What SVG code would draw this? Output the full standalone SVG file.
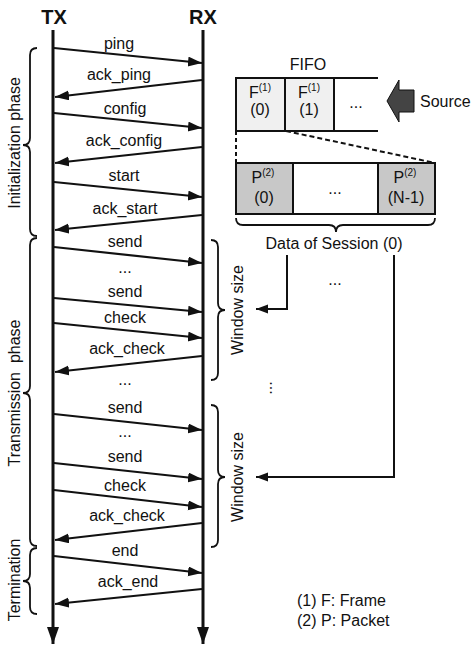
<svg xmlns="http://www.w3.org/2000/svg" width="474" height="647" viewBox="0 0 474 647">
<style>
text{font-family:"Liberation Sans",Arial,sans-serif;fill:#111}
.t{font-size:16px}
.m{font-size:16px;text-anchor:middle}
.h{font-size:20px;font-weight:bold;text-anchor:middle}
.sup{font-size:10px}
.life{stroke:#111;stroke-width:3;fill:none}
.msg{stroke:#111;stroke-width:2.2;fill:none;marker-end:url(#ah)}
.br{stroke:#111;stroke-width:1.8;fill:none}
.box{stroke:#111;stroke-width:2}
.conn{stroke:#111;stroke-width:2;fill:none}
</style>
<defs>
<marker id="ah" markerUnits="userSpaceOnUse" markerWidth="15" markerHeight="11" refX="14" refY="5" orient="auto"><path d="M0,0 L14,5 L0,10 z" fill="#111"/></marker>
<marker id="ahl" markerUnits="userSpaceOnUse" markerWidth="18" markerHeight="12" refX="17" refY="6" orient="auto"><path d="M0,0 L17,6 L0,12 z" fill="#111"/></marker>
<marker id="ahs" markerUnits="userSpaceOnUse" markerWidth="13" markerHeight="10" refX="12" refY="4.5" orient="auto"><path d="M0,0 L12,4.5 L0,9 z" fill="#111"/></marker>
</defs>

<g id="tx">
<text class="h" x="54" y="24">TX</text>
<line class="life" x1="53" y1="30" x2="53" y2="644" marker-end="url(#ahl)"/>
</g>
<g id="rx">
<text class="h" x="203" y="24">RX</text>
<line class="life" x1="203" y1="30" x2="203" y2="644" marker-end="url(#ahl)"/>
</g>

<g id="connectors">
<line class="msg" x1="54" y1="48" x2="202" y2="63"/>
<line class="msg" x1="202" y1="80" x2="55" y2="97"/>
<line class="msg" x1="54" y1="113" x2="202" y2="128"/>
<line class="msg" x1="202" y1="147" x2="55" y2="163"/>
<line class="msg" x1="54" y1="182" x2="202" y2="197"/>
<line class="msg" x1="202" y1="215" x2="55" y2="230"/>
<line class="msg" x1="54" y1="247" x2="202" y2="263"/>
<line class="msg" x1="54" y1="298" x2="202" y2="312"/>
<line class="msg" x1="54" y1="323" x2="202" y2="338"/>
<line class="msg" x1="202" y1="356" x2="55" y2="372"/>
<line class="msg" x1="54" y1="414" x2="202" y2="430"/>
<line class="msg" x1="54" y1="463" x2="202" y2="479"/>
<line class="msg" x1="54" y1="490" x2="202" y2="507"/>
<line class="msg" x1="202" y1="523" x2="55" y2="540"/>
<line class="msg" x1="54" y1="556" x2="202" y2="573"/>
<line class="msg" x1="202" y1="589" x2="55" y2="604"/>
<path class="conn" d="M287 255 V309 H256" marker-end="url(#ahs)"/>
<path class="conn" d="M394 255 V477 H256" marker-end="url(#ahs)"/>
<line class="conn" x1="236" y1="131" x2="236" y2="163" stroke-dasharray="4,3"/>
<line class="conn" x1="286" y1="131" x2="435" y2="163" stroke-dasharray="5,3"/>
</g>

<g id="msg-labels">
<text class="m" x="119" y="49">ping</text>
<text class="m" x="119" y="80">ack_ping</text>
<text class="m" x="125" y="114">config</text>
<text class="m" x="124" y="146">ack_config</text>
<text class="m" x="124" y="181">start</text>
<text class="m" x="125" y="214">ack_start</text>
<text class="m" x="125" y="247">send</text>
<text class="m" x="125" y="273">...</text>
<text class="m" x="125" y="297">send</text>
<text class="m" x="125" y="323">check</text>
<text class="m" x="127" y="354">ack_check</text>
<text class="m" x="125" y="385">...</text>
<text class="m" x="125" y="413">send</text>
<text class="m" x="125" y="437">...</text>
<text class="m" x="125" y="462">send</text>
<text class="m" x="125" y="491">check</text>
<text class="m" x="127" y="521">ack_check</text>
<text class="m" x="125" y="556">end</text>
<text class="m" x="128" y="587">ack_end</text>
</g>

<g id="phase-init">
<path class="br" d="M37 48 Q30 48 30 55 L30 138 Q30 145 23 145 Q30 145 30 152 L30 229 Q30 236 37 236"/>
<text class="m" transform="translate(20 143) rotate(-90)">Initialization phase</text>
</g>
<g id="phase-trans">
<path class="br" d="M37 238 Q30 238 30 245 L30 386 Q30 393 23 393 Q30 393 30 400 L30 539 Q30 546 37 546"/>
<text class="m" xml:space="preserve" transform="translate(20 393) rotate(-90)">Transmission  phase</text>
</g>
<g id="phase-term">
<path class="br" d="M37 548 Q30 548 30 555 L30 574 Q30 581 23 581 Q30 581 30 588 L30 607 Q30 614 37 614"/>
<text class="m" transform="translate(20 580) rotate(-90)">Termination</text>
</g>

<g id="window1">
<path class="br" d="M211 240 Q218 240 218 247 L218 303 Q218 310 225 310 Q218 310 218 317 L218 373 Q218 380 211 380"/>
<text class="m" transform="translate(243 310) rotate(-90)">Window size</text>
</g>
<g id="window2">
<path class="br" d="M211 405 Q218 405 218 412 L218 470 Q218 477 225 477 Q218 477 218 484 L218 540 Q218 547 211 547"/>
<text class="m" transform="translate(243 477) rotate(-90)">Window size</text>
</g>

<g id="fifo">
<text class="m" x="308" y="70">FIFO</text>
<rect x="236" y="78" width="49" height="53" fill="#f0f0f0" class="box"/>
<rect x="285" y="78" width="49" height="53" fill="#f0f0f0" class="box"/>
<line class="box" x1="334" y1="78" x2="378" y2="78"/>
<line class="box" x1="334" y1="131" x2="378" y2="131"/>
<text class="m" x="260" y="98">F<tspan class="sup" dy="-7">(1)</tspan></text>
<text class="m" x="260" y="115">(0)</text>
<text class="m" x="309" y="98">F<tspan class="sup" dy="-7">(1)</tspan></text>
<text class="m" x="309" y="115">(1)</text>
<text class="m" x="356" y="108">...</text>
</g>

<g id="source">
<polygon points="387,101 399,80 399,90 414,90 414,112 399,112 399,122" fill="#444" stroke="#111" stroke-width="1"/>
<text class="t" x="420" y="107">Source</text>
</g>

<g id="packets">
<rect x="236" y="163" width="57" height="51" fill="#c8c8c8" class="box"/>
<rect x="293" y="163" width="85" height="51" fill="#fff" class="box"/>
<rect x="378" y="163" width="57" height="51" fill="#c8c8c8" class="box"/>
<text class="m" x="263" y="183">P<tspan class="sup" dy="-7">(2)</tspan></text>
<text class="m" x="264" y="203">(0)</text>
<text class="m" x="335" y="194">...</text>
<text class="m" x="405" y="183">P<tspan class="sup" dy="-7">(2)</tspan></text>
<text class="m" x="406" y="203">(N-1)</text>
</g>

<g id="session">
<path class="br" d="M236 218 Q236 225 243 225 L329 225 Q336 225 336 232 Q336 225 343 225 L428 225 Q435 225 435 218"/>
<text class="m" x="334" y="249">Data of Session (0)</text>
<text class="m" x="335" y="285">...</text>
<text class="m" transform="translate(270 388) rotate(90)">...</text>
</g>

<g id="legend">
<text class="t" x="297" y="606">(1) F: Frame</text>
<text class="t" x="297" y="626">(2) P: Packet</text>
</g>
</svg>
